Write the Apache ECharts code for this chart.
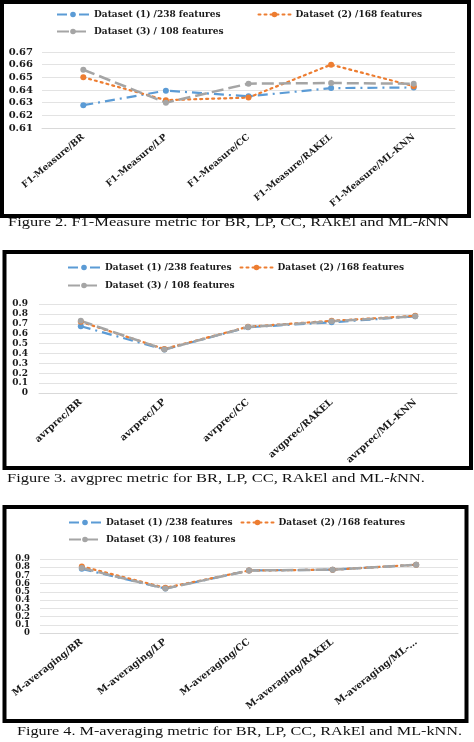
<!DOCTYPE html>
<html>
<head>
<meta charset="utf-8">
<script src="https://cdn.jsdelivr.net/npm/echarts@6/dist/echarts.min.js"></script>
<style>html,body{margin:0;padding:0;background:#fff}#c{width:474px;height:742px}</style>
</head>
<body>
<div id="c"></div>
<script>
// ---- data ----
const seriesNames = ['Dataset (1) /238 features', 'Dataset (2) /168 features', 'Dataset (3) / 108 features'];

const f1Categories = ['F1-Measure/BR', 'F1-Measure/LP', 'F1-Measure/CC', 'F1-Measure/RAKEL', 'F1-Measure/ML-KNN'];
const f1Dataset1 = [0.628, 0.6395, 0.635, 0.6415, 0.642];
const f1Dataset2 = [0.650, 0.632, 0.634, 0.660, 0.643];
const f1Dataset3 = [0.656, 0.630, 0.645, 0.6455, 0.645];
const f1Ticks = { min: 0.61, max: 0.67, interval: 0.01 };

const avgCategories = ['avrprec/BR', 'avrprec/LP', 'avrprec/CC', 'avgprec/RAKEL', 'avrprec/ML-KNN'];
const avgDataset1 = [0.675, 0.44, 0.665, 0.715, 0.775];
const avgDataset2 = [0.72, 0.445, 0.67, 0.73, 0.78];
const avgDataset3 = [0.73, 0.44, 0.667, 0.725, 0.775];
const avgTicks = { min: 0, max: 0.9, interval: 0.1 };

const mavgCategories = ['M-averaging/BR', 'M-averaging/LP', 'M-averaging/CC', 'M-averaging/RAKEL', 'M-averaging/ML-\u2026'];
const mavgDataset1 = [0.78, 0.54, 0.76, 0.77, 0.83];
const mavgDataset2 = [0.81, 0.55, 0.76, 0.77, 0.83];
const mavgDataset3 = [0.79, 0.54, 0.76, 0.77, 0.83];
const mavgTicks = { min: 0, max: 0.9, interval: 0.1 };

const captions = [
  ['Figure 2. F1-Measure metric for BR, LP, CC, RAkEl and ML-', 'k', 'NN'],
  ['Figure 3. avgprec metric for BR, LP, CC, RAkEl and ML-', 'k', 'NN.'],
  ['Figure 4. M-averaging metric for BR, LP, CC, RAkEl and ML-kNN.', '', '']
];

// ---- styling / layout ----
const colors = ['#5B9BD5', '#ED7D31', '#A5A5A5'];
const lineTypes = [[10, 5, 2, 5], [2, 4], [12, 5]];
const lineWidths = [2.2, 2.2, 2.5];
const labelFont = 'DejaVu Serif';

const panels = [
  { cats: f1Categories, data: [f1Dataset1, f1Dataset2, f1Dataset3], ticks: f1Ticks,
    grid: { left: 42, top: 52, width: 413, height: 76 }, yFont: 10, yMargin: 9, xFont: 9, rot: 40,
    legLeft: 56, legTop1: 10, legTop2: 27, legGap: 37, splitEnds: false,
    box: { x: 2, y: 2, width: 467, height: 214 }, cap: { x: 8, y: 223, sx: 1.37 } },
  { cats: avgCategories, data: [avgDataset1, avgDataset2, avgDataset3], ticks: avgTicks,
    grid: { left: 39, top: 304, width: 418, height: 89 }, yFont: 9, yMargin: 11, xFont: 9.5, rot: 42,
    legLeft: 67, legTop1: 263, legTop2: 281, legGap: 8, splitEnds: false,
    box: { x: 4.5, y: 252, width: 466.5, height: 216 }, cap: { x: 7, y: 478.5, sx: 1.37 } },
  { cats: mavgCategories, data: [mavgDataset1, mavgDataset2, mavgDataset3], ticks: mavgTicks,
    grid: { left: 40, top: 559, width: 418, height: 74 }, yFont: 8.5, yMargin: 10, xFont: 9.5, rot: 38,
    legLeft: 68, legTop1: 518, legTop2: 535, legGap: 8, splitEnds: true,
    box: { x: 4.5, y: 507, width: 462, height: 214 }, cap: { x: 17, y: 731.5, sx: 1.35 } }
];

const grids = [], xAxes = [], yAxes = [], extraY = [], series = [], legends = [], graphics = [];

panels.forEach((p, i) => {
  grids.push(p.grid);
  xAxes.push({
    type: 'category', gridIndex: i, data: p.cats, boundaryGap: true,
    axisTick: { show: false },
    axisLine: { lineStyle: { color: '#d9d9d9', width: 1 } },
    axisLabel: { interval: 0, rotate: p.rot, margin: 8, fontFamily: labelFont, fontWeight: 'bold',
                 fontSize: p.xFont, color: '#1a1a1a', hideOverlap: false }
  });
  const yLabel = { fontFamily: labelFont, fontWeight: 'bold', fontSize: p.yFont,
                   color: '#1a1a1a', margin: p.yMargin, hideOverlap: false };
  yAxes.push({
    type: 'value', gridIndex: i, min: p.ticks.min, max: p.ticks.max, interval: p.ticks.interval,
    axisLine: { show: false }, axisTick: { show: false },
    splitLine: { lineStyle: { color: '#e3e3e3', width: 1 } },
    axisLabel: Object.assign({}, yLabel, p.splitEnds ? { showMinLabel: false, showMaxLabel: false }
                                                  : { showMinLabel: true, showMaxLabel: true })
  });
  if (p.splitEnds) {
    // densely packed labels: end labels drawn by a twin axis so none are dropped
    extraY.push({
      type: 'value', gridIndex: i, min: p.ticks.min, max: p.ticks.max, interval: p.ticks.interval,
      position: 'left', axisLine: { show: false }, axisTick: { show: false }, splitLine: { show: false },
      axisLabel: Object.assign({}, yLabel, { showMinLabel: true, showMaxLabel: true,
        formatter: (v) => (Math.abs(v - p.ticks.min) < 1e-9 || Math.abs(v - p.ticks.max) < 1e-9) ? String(v) : '' })
    });
  }
  p.data.forEach((vals, k) => {
    series.push({
      type: 'line', name: seriesNames[k], xAxisIndex: i, yAxisIndex: i, data: vals,
      symbol: 'circle', symbolSize: 6, showSymbol: true,
      itemStyle: { color: colors[k] },
      lineStyle: { color: colors[k], width: lineWidths[k], type: lineTypes[k], cap: k === 1 ? 'round' : 'butt' },
      emphasis: { disabled: true }, animation: false
    });
  });
  const legText = { fontFamily: labelFont, fontWeight: 'bold', fontSize: 9, color: '#1a1a1a' };
  legends.push({ data: [seriesNames[0], seriesNames[1]], left: p.legLeft, top: p.legTop1, itemGap: p.legGap,
                 itemWidth: 32, itemHeight: 7, textStyle: legText, padding: 0 });
  legends.push({ data: [seriesNames[2]], left: p.legLeft, top: p.legTop2,
                 itemWidth: 32, itemHeight: 7, textStyle: legText, padding: 0 });

  graphics.push({ type: 'rect', silent: true, z: 100,
    shape: p.box, style: { fill: 'none', stroke: '#000', lineWidth: 4 } });
  const c = captions[i];
  const capText = c[1] ? '{a|' + c[0] + '}{i|' + c[1] + '}{a|' + c[2] + '}' : '{a|' + c[0] + '}';
  graphics.push({ type: 'text', silent: true, x: p.cap.x, y: p.cap.y, scaleX: p.cap.sx, scaleY: 1,
    style: { text: capText, verticalAlign: 'middle', align: 'left',
      rich: {
        a: { fontFamily: 'Liberation Serif', fontSize: 12, fill: '#111', color: '#111' },
        i: { fontFamily: 'Liberation Serif', fontSize: 12, fontStyle: 'italic', fill: '#111', color: '#111' }
      } } });
});

const chart = echarts.init(document.getElementById('c'), null, { renderer: 'canvas' });
chart.setOption({
  backgroundColor: '#fff',
  animation: false,
  grid: grids,
  xAxis: xAxes,
  yAxis: yAxes.concat(extraY),
  legend: legends,
  series: series,
  graphic: graphics
});
</script>
</body>
</html>
